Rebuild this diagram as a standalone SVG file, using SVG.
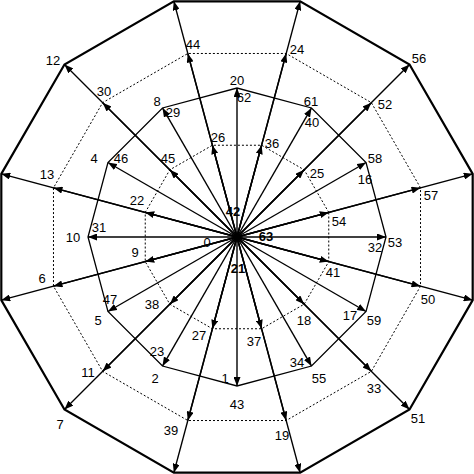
<svg xmlns="http://www.w3.org/2000/svg" width="474" height="474" viewBox="0 0 474 474">
<defs>
<marker id="ah" markerUnits="userSpaceOnUse" markerWidth="10" markerHeight="7" refX="9" refY="3.5" orient="auto">
<path d="M0,0 L9,3.5 L0,7 z" fill="#000"/>
</marker>
<style>
.ar{stroke:#000;stroke-width:1.4;fill:none;marker-end:url(#ah)}
.outer{stroke:#000;stroke-width:2.2;fill:none}
.mid{stroke:#000;stroke-width:1.3;fill:none}
.dot{stroke:#000;stroke-width:1;fill:none;stroke-dasharray:2,2}
text{font-family:"Liberation Sans",Arial,sans-serif;font-size:13px;fill:#000;text-anchor:middle;dominant-baseline:central}
.b{font-weight:bold}
</style>
</defs>
<rect width="474" height="474" fill="#fff"/>
<g id="connectors">
<polygon class="outer" points="472.69,173.85 409.53,64.47 300.15,1.31 173.85,1.31 64.47,64.47 1.31,173.85 1.31,300.15 64.47,409.53 173.85,472.69 300.15,472.69 409.53,409.53 472.69,300.15"/>
<polygon class="dot" points="420.53,187.82 371.35,102.65 286.18,53.47 187.82,53.47 102.65,102.65 53.47,187.82 53.47,286.18 102.65,371.35 187.82,420.53 286.18,420.53 371.35,371.35 420.53,286.18"/>
<polygon class="mid" points="386,237 366.04,162.5 311.5,107.96 237,88 162.5,107.96 107.96,162.5 88,237 107.96,311.5 162.5,366.04 237,386 311.5,366.04 366.04,311.5"/>
<polygon class="dot" points="328.76,212.41 304.18,169.82 261.59,145.24 212.41,145.24 169.82,169.82 145.24,212.41 145.24,261.59 169.82,304.18 212.41,328.76 261.59,328.76 304.18,304.18 328.76,261.59"/>
<!-- outer ring arrows -->
<line class="ar" x1="237" y1="237" x2="472.69" y2="173.85"/>
<line class="ar" x1="237" y1="237" x2="409.53" y2="64.47"/>
<line class="ar" x1="237" y1="237" x2="300.15" y2="1.31"/>
<line class="ar" x1="237" y1="237" x2="173.85" y2="1.31"/>
<line class="ar" x1="237" y1="237" x2="64.47" y2="64.47"/>
<line class="ar" x1="237" y1="237" x2="1.31" y2="173.85"/>
<line class="ar" x1="237" y1="237" x2="1.31" y2="300.15"/>
<line class="ar" x1="237" y1="237" x2="64.47" y2="409.53"/>
<line class="ar" x1="237" y1="237" x2="173.85" y2="472.69"/>
<line class="ar" x1="237" y1="237" x2="300.15" y2="472.69"/>
<line class="ar" x1="237" y1="237" x2="409.53" y2="409.53"/>
<line class="ar" x1="237" y1="237" x2="472.69" y2="300.15"/>
<!-- outer dotted ring arrows -->
<line class="ar" x1="237" y1="237" x2="420.53" y2="187.82"/>
<line class="ar" x1="237" y1="237" x2="371.35" y2="102.65"/>
<line class="ar" x1="237" y1="237" x2="286.18" y2="53.47"/>
<line class="ar" x1="237" y1="237" x2="187.82" y2="53.47"/>
<line class="ar" x1="237" y1="237" x2="102.65" y2="102.65"/>
<line class="ar" x1="237" y1="237" x2="53.47" y2="187.82"/>
<line class="ar" x1="237" y1="237" x2="53.47" y2="286.18"/>
<line class="ar" x1="237" y1="237" x2="102.65" y2="371.35"/>
<line class="ar" x1="237" y1="237" x2="187.82" y2="420.53"/>
<line class="ar" x1="237" y1="237" x2="286.18" y2="420.53"/>
<line class="ar" x1="237" y1="237" x2="371.35" y2="371.35"/>
<line class="ar" x1="237" y1="237" x2="420.53" y2="286.18"/>
<!-- middle ring arrows -->
<line class="ar" x1="237" y1="237" x2="386" y2="237"/>
<line class="ar" x1="237" y1="237" x2="366.04" y2="162.5"/>
<line class="ar" x1="237" y1="237" x2="311.5" y2="107.96"/>
<line class="ar" x1="237" y1="237" x2="237" y2="88"/>
<line class="ar" x1="237" y1="237" x2="162.5" y2="107.96"/>
<line class="ar" x1="237" y1="237" x2="107.96" y2="162.5"/>
<line class="ar" x1="237" y1="237" x2="88" y2="237"/>
<line class="ar" x1="237" y1="237" x2="107.96" y2="311.5"/>
<line class="ar" x1="237" y1="237" x2="162.5" y2="366.04"/>
<line class="ar" x1="237" y1="237" x2="237" y2="386"/>
<line class="ar" x1="237" y1="237" x2="311.5" y2="366.04"/>
<line class="ar" x1="237" y1="237" x2="366.04" y2="311.5"/>
<!-- inner dotted ring arrows -->
<line class="ar" x1="237" y1="237" x2="328.76" y2="212.41"/>
<line class="ar" x1="237" y1="237" x2="304.18" y2="169.82"/>
<line class="ar" x1="237" y1="237" x2="261.59" y2="145.24"/>
<line class="ar" x1="237" y1="237" x2="212.41" y2="145.24"/>
<line class="ar" x1="237" y1="237" x2="169.82" y2="169.82"/>
<line class="ar" x1="237" y1="237" x2="145.24" y2="212.41"/>
<line class="ar" x1="237" y1="237" x2="145.24" y2="261.59"/>
<line class="ar" x1="237" y1="237" x2="169.82" y2="304.18"/>
<line class="ar" x1="237" y1="237" x2="212.41" y2="328.76"/>
<line class="ar" x1="237" y1="237" x2="261.59" y2="328.76"/>
<line class="ar" x1="237" y1="237" x2="304.18" y2="304.18"/>
<line class="ar" x1="237" y1="237" x2="328.76" y2="261.59"/>
</g>
<g id="n0"><text x="207" y="242">0</text></g>
<g id="n21"><text class="b" x="238" y="268">21</text></g>
<g id="n42"><text class="b" x="233" y="211">42</text></g>
<g id="n63"><text class="b" x="266" y="236">63</text></g>
<g id="n26"><text x="218" y="137">26</text></g>
<g id="n36"><text x="272" y="143">36</text></g>
<g id="n25"><text x="317" y="173">25</text></g>
<g id="n54"><text x="339" y="221">54</text></g>
<g id="n41"><text x="333" y="272">41</text></g>
<g id="n18"><text x="304" y="320">18</text></g>
<g id="n37"><text x="254" y="341">37</text></g>
<g id="n27"><text x="199" y="335">27</text></g>
<g id="n38"><text x="152" y="304">38</text></g>
<g id="n9"><text x="135" y="252">9</text></g>
<g id="n22"><text x="137" y="200">22</text></g>
<g id="n45"><text x="168" y="158">45</text></g>
<g id="n20"><text x="237" y="80">20</text></g>
<g id="n62"><text x="244" y="97">62</text></g>
<g id="n61"><text x="311" y="101">61</text></g>
<g id="n40"><text x="312" y="122">40</text></g>
<g id="n58"><text x="375" y="158">58</text></g>
<g id="n16"><text x="365" y="179">16</text></g>
<g id="n53"><text x="395" y="242">53</text></g>
<g id="n32"><text x="375" y="247">32</text></g>
<g id="n59"><text x="374" y="320">59</text></g>
<g id="n17"><text x="350" y="315">17</text></g>
<g id="n55"><text x="319" y="378">55</text></g>
<g id="n34"><text x="297" y="362">34</text></g>
<g id="n1"><text x="225" y="378">1</text></g>
<g id="n43"><text x="237" y="404">43</text></g>
<g id="n2"><text x="155" y="378">2</text></g>
<g id="n23"><text x="157" y="351">23</text></g>
<g id="n5"><text x="98" y="320">5</text></g>
<g id="n47"><text x="110" y="299">47</text></g>
<g id="n10"><text x="73" y="237">10</text></g>
<g id="n31"><text x="99" y="227">31</text></g>
<g id="n4"><text x="94" y="158">4</text></g>
<g id="n46"><text x="121" y="158">46</text></g>
<g id="n8"><text x="157" y="101">8</text></g>
<g id="n29"><text x="173" y="112">29</text></g>
<g id="n44"><text x="193" y="44">44</text></g>
<g id="n24"><text x="297" y="49">24</text></g>
<g id="n30"><text x="104" y="91">30</text></g>
<g id="n52"><text x="385" y="104">52</text></g>
<g id="n13"><text x="47" y="174">13</text></g>
<g id="n57"><text x="431" y="195">57</text></g>
<g id="n6"><text x="42" y="278">6</text></g>
<g id="n50"><text x="428" y="299">50</text></g>
<g id="n11"><text x="88" y="372">11</text></g>
<g id="n33"><text x="374" y="388">33</text></g>
<g id="n39"><text x="171" y="430">39</text></g>
<g id="n19"><text x="282" y="435">19</text></g>
<g id="n12"><text x="53" y="60">12</text></g>
<g id="n56"><text x="419" y="58">56</text></g>
<g id="n7"><text x="60" y="424">7</text></g>
<g id="n51"><text x="418" y="418">51</text></g>
</svg>
